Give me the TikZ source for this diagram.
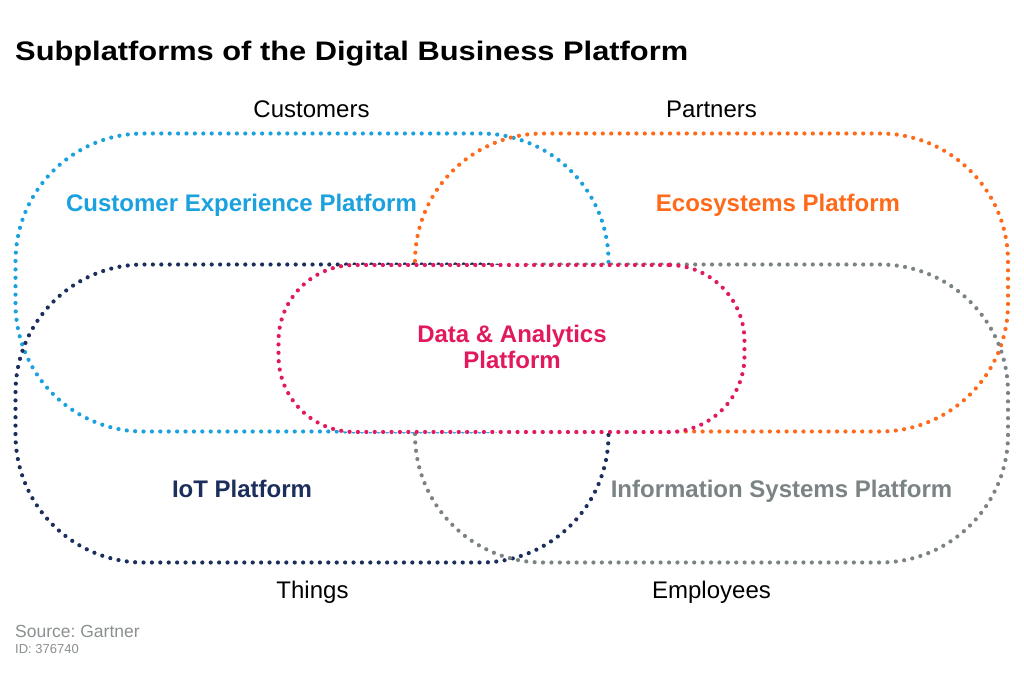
\documentclass[tikz,border=0pt]{standalone}
\usepackage{fontspec}
\setmainfont{Liberation Sans}
\newfontfamily\titlefont[FakeStretch=1.15]{Liberation Sans}
\frenchspacing
\definecolor{cblue}{HTML}{1BA1DE}
\definecolor{corange}{HTML}{FF6A1A}
\definecolor{cpink}{HTML}{E2195E}
\definecolor{cnavy}{HTML}{1B2E5C}
\definecolor{cgray}{HTML}{7B8384}
\definecolor{cfoot}{HTML}{8A8F91}
\tikzset{
  plat/.style={draw=#1, line width=4.2pt, line cap=round,
    dash pattern=on 0pt off 8.4pt, rectangle, rounded corners=128pt,
    minimum width=593pt, minimum height=298pt, inner sep=0pt},
  dap/.style={draw=cpink, fill=white, line width=4.2pt, line cap=round,
    dash pattern=on 0pt off 8.4pt, rectangle, rounded corners=76pt,
    minimum width=466pt, minimum height=167pt, inner sep=0pt},
  grp/.style={font=\fontsize{24}{26}\selectfont, text=black, anchor=base, inner sep=0pt},
  plab/.style={font=\fontsize{24}{26}\selectfont\bfseries, text=#1, anchor=base, inner sep=0pt},
}
\begin{document}
\begin{tikzpicture}[x=1pt, y=-1pt]
\useasboundingbox (0,0) rectangle (1024,684);
\node[plat=cblue] (ce) at (312,282.5) {};
\node[plat=corange] (eco) at (711.5,282.5) {};
\node[plat=cnavy] (iot) at (312,413.5) {};
\node[plat=cgray] (isp) at (711.5,413.5) {};
\node[dap] (da) at (511.5,348.5) {};
\node[anchor=base west, inner sep=0pt, font=\fontsize{26.8}{30}\titlefont\bfseries] (title) at (15,61) {Subplatforms of the Digital Business Platform};
\node[grp] (cust) at (311.5,118) {Customers};
\node[grp] (part) at (711.5,118) {Partners};
\node[grp] (thing) at (312.5,598) {Things};
\node[grp] (emp) at (711.5,598) {Employees};
\node[plab=cblue] (cel) at (241.5,212) {Customer Experience Platform};
\node[plab=corange] (ecol) at (778,212) {Ecosystems Platform};
\node[plab=cpink] (dal1) at (512,342) {Data \& Analytics};
\node[plab=cpink] (dal2) at (512,368) {Platform};
\node[plab=cnavy] (iotl) at (242,497) {IoT Platform};
\node[plab=cgray] (ispl) at (781.5,497) {Information Systems Platform};
\node[anchor=base west, inner sep=0pt, text=cfoot, font=\fontsize{17.5}{20}\selectfont] (src) at (15,637) {Source: Gartner};
\node[anchor=base west, inner sep=0pt, text=cfoot, font=\fontsize{13}{15}\selectfont] (id) at (15,653) {ID: 376740};
\end{tikzpicture}
\end{document}
